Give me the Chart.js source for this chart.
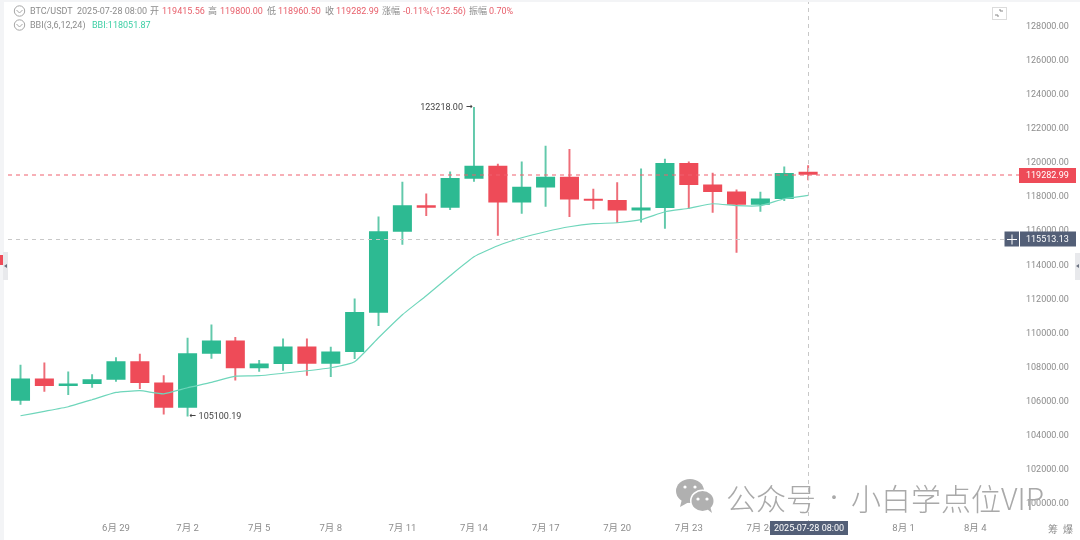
<!DOCTYPE html>
<html><head><meta charset="utf-8">
<style>
html,body{margin:0;padding:0;background:#fff;width:1080px;height:540px;overflow:hidden;font-family:Roboto,"Noto Sans CJK SC",sans-serif}
#wrap{position:relative;width:1080px;height:540px}
canvas{position:absolute;left:0;top:0}
.hd{position:absolute;font-size:9px;line-height:12px;color:#8c8c8c;white-space:nowrap}
.r{color:#e8606c}
.g{color:#3ccfa4}
.wm{position:absolute;top:478px;font:300 30px "Noto Sans CJK SC";color:#a9a9a9;white-space:nowrap;line-height:38px}
.br{position:absolute;top:521px;font-size:10px;color:#8c8c8c}
</style></head><body>
<div id="wrap">
<canvas id="c" width="1080" height="540"></canvas>
<div id="head"></div>
<div class="wm" style="left:726px">公众号</div><div class="wm" style="left:824px;font-size:20px">·</div><div class="wm" style="left:851px">小白学点位VIP</div>
<div class="br" style="left:1048px">筹</div><div class="br" style="left:1063px">爆</div>
</div>
<script src="https://cdn.jsdelivr.net/npm/chart.js@4"></script>
<script>
const categories=["6月 25","6月 26","6月 27","6月 28","6月 29","6月 30","7月 1","7月 2","7月 3","7月 4","7月 5","7月 6","7月 7","7月 8","7月 9","7月 10","7月 11","7月 12","7月 13","7月 14","7月 15","7月 16","7月 17","7月 18","7月 19","7月 20","7月 21","7月 22","7月 23","7月 24","7月 25","7月 26","7月 27","7月 28","7月 29","7月 30","7月 31","8月 1","8月 2","8月 3","8月 4","8月 5"];
const shownDates=["6月 29","7月 2","7月 5","7月 8","7月 11","7月 14","7月 17","7月 20","7月 23","7月 26","8月 1","8月 4"];
const openVals=[106030,107300,106890,107010,107260,108315,107065,105620,108785,109530,107930,108180,109180,108200,108885,111190,115940,117465,117350,119050,119775,117665,118545,119130,117840,117760,117195,117330,119930,118680,118270,117525,117860,119415.56];
const closeVals=[107300,106890,107010,107260,108315,107065,105620,108785,109530,107930,108180,109180,108200,108885,111190,115940,117465,117350,119050,119775,117665,118545,119130,117840,117760,117195,117330,119930,118680,118270,117525,117860,119345,119282.99];
const highVals=[108105,108240,107710,107540,108550,108750,107495,109690,110470,109725,108375,109650,109650,109160,111995,116800,118840,118150,119440,123218,119895,120030,120950,120750,118430,118800,119620,120190,120030,119365,118385,118250,119735,119800];
const lowVals=[105795,106555,106365,106790,107145,106715,105230,105100.19,108490,107225,107730,107790,107495,107420,108475,110410,115180,116860,117215,118875,115705,116995,117405,116805,117255,116450,116490,116115,117290,117055,114710,117115,117740,118960.5];
const bbiVals=[105130,105390,105660,106070,106500,106600,106420,106775,107085,107460,107480,107625,107770,107945,108300,109705,111055,112170,113345,114455,115100,115570,115925,116215,116395,116450,116630,117095,117300,117565,117450,117450,117860,118051.87];
const yTicks=[100000,102000,104000,106000,108000,110000,112000,114000,116000,118000,120000,122000,124000,126000,128000];
const headerRow1=[["BTC/USDT",30,""],["2025-07-28 08:00",77,""],["开",150,""],["119415.56",162,"r"],["高",208,""],["119800.00",220,"r"],["低",267,""],["118960.50",278,"r"],["收",325,""],["119282.99",336,"r"],["涨幅",382,""],["-0.11%(-132.56)",403,"r"],["振幅",469,""],["0.70%",489,"r"]];
const headerRow2=[["BBI(3,6,12,24)",30,""],["BBI:118051.87",92,"g"]];
const lastPrice=119282.99, crossPrice=115513.13, crossIndex=33, crossLabel="2025-07-28 08:00";
const maxLabel="123218.00", minLabel="105100.19", maxIndex=19, minIndex=7, maxPrice=123218, minPrice=105100.19;
const UP="#2dba92", DOWN="#ee4b58", LINE="#6fd6bb";
const colors=closeVals.map((c,i)=>c>=openVals[i]?UP:DOWN);
const wickColors=closeVals.map((c,i)=>c>=openVals[i]?"#62c9ab":"#ee6d78");
const head=document.getElementById('head');
[[headerRow1,5],[headerRow2,18.5]].forEach(([row,top])=>row.forEach(([t,l,k])=>{const s=document.createElement('div');s.className='hd '+k;s.style.left=l+'px';s.style.top=top+'px';s.textContent=t;head.appendChild(s);}));

const overlay={id:'overlay',afterDraw(ch){
  const c=ch.ctx,y=ch.scales.y,x=ch.scales.x;
  const tag=(t,l,w,py,bg)=>{c.fillStyle=bg;c.fillRect(l,py-7.5,w,15);c.fillStyle='#fff';c.font='9px Roboto';c.textAlign='left';c.textBaseline='middle';c.fillText(t,1026,py+.5);};
  c.save();
  c.setLineDash([4,4]);c.lineWidth=1;
  const pl=Math.round(y.getPixelForValue(lastPrice)+.5),pc=Math.round(y.getPixelForValue(crossPrice)+.5),px=x.getPixelForValue(crossIndex);
  c.strokeStyle='#c8c8c8';c.beginPath();c.moveTo(0,pc+.5);c.lineTo(1005,pc+.5);c.stroke();
  c.beginPath();c.moveTo(Math.round(px)+.5,0);c.lineTo(Math.round(px)+.5,521);c.stroke();
  c.strokeStyle='#f0606e';c.lineWidth=1.2;c.beginPath();c.moveTo(0,pl);c.lineTo(1019,pl);c.stroke();
  c.lineWidth=1;
  c.setLineDash([]);
  tag(lastPrice.toFixed(2),1019,57,pl+.5,'#ee4b58');
  tag(crossPrice.toFixed(2),1020,56,pc,'#535f77');
  c.fillStyle='#535f77';c.fillRect(1004.5,pc-7.5,14.5,15);
  c.strokeStyle='#fff';c.beginPath();c.moveTo(1007,pc+.5);c.lineTo(1017,pc+.5);c.moveTo(1012,pc-4.5);c.lineTo(1012,pc+5.5);c.stroke();
  c.fillStyle='#535f77';c.fillRect(770,521,78,14);
  c.fillStyle='#fff';c.font='9px Roboto';c.textAlign='center';c.textBaseline='middle';c.fillText(crossLabel,809,528.5);
  const mx=x.getPixelForValue(maxIndex),my=y.getPixelForValue(maxPrice),nx=x.getPixelForValue(minIndex),ny=y.getPixelForValue(minPrice);
  c.fillStyle='#444';c.font='9px Roboto';c.textAlign='right';
  c.fillText(maxLabel,mx-11,my);
  c.textAlign='left';
  c.fillText(minLabel,nx+11,ny);
  c.font='bold 8px "DejaVu Sans"';
  c.textAlign='right';c.fillText('→',mx-1,my);
  c.textAlign='left';c.fillText('←',nx+2,ny);
  // header toggles
  c.strokeStyle='#a5a5a5';c.lineWidth=1;
  [11,25].forEach(py=>{c.beginPath();c.arc(19.5,py,5.2,0,Math.PI*2);c.stroke();c.beginPath();c.moveTo(16.5,py-1);c.lineTo(19.5,py+2);c.lineTo(22.5,py-1);c.stroke();});
  // corner icon
  c.strokeStyle='#dcdcdc';c.strokeRect(992.5,7.5,14,12);
  c.strokeStyle='#888';c.beginPath();c.moveTo(995,15);c.lineTo(998,15);c.lineTo(998,17);c.moveTo(1003,11);c.lineTo(1000,11);c.lineTo(1000,9);c.stroke();
  // edge strips and side tabs
  c.fillStyle='#f3f4f6';c.fillRect(0,0,4,540);c.fillRect(0,0,1080,2);
  c.fillStyle='#e8e9ec';c.fillRect(3,252,5,28);c.fillRect(1075,253,5,27);
  c.fillStyle='#ee4b58';c.fillRect(0,255,3,10);
  c.fillStyle='#6b7280';c.beginPath();c.moveTo(4,266);c.lineTo(7,264);c.lineTo(7,268);c.fill();
  c.beginPath();c.moveTo(1076,266);c.lineTo(1079,264);c.lineTo(1079,268);c.fill();
  // wechat glyph watermark
  c.fillStyle='#b0b0b0';
  c.beginPath();c.ellipse(690,491,14,12,0,0,Math.PI*2);c.fill();
  c.beginPath();c.moveTo(682,499);c.lineTo(680,507);c.lineTo(689,502);c.fill();
  c.fillStyle='#fff';c.beginPath();c.ellipse(702.5,501,12.5,11.5,0,0,Math.PI*2);c.fill();
  c.fillStyle='#b0b0b0';c.beginPath();c.ellipse(702.5,501,11,10,0,0,Math.PI*2);c.fill();
  c.beginPath();c.moveTo(707,509);c.lineTo(712,513);c.lineTo(710,506);c.fill();
  c.fillStyle='#fff';
  [[685,487],[695,487],[698,499],[707,499]].forEach(p=>{c.beginPath();c.arc(p[0],p[1],1.6,0,Math.PI*2);c.fill();});
  c.restore();
}};

new Chart(document.getElementById('c'),{
  data:{labels:categories,datasets:[
    {type:'line',label:'BBI',data:bbiVals,borderColor:LINE,borderWidth:1.2,pointRadius:0,tension:.15,order:1},
    {type:'bar',label:'body',data:openVals.map((o,i)=>[o,closeVals[i]]),backgroundColor:colors,barThickness:18.4,order:2,grouped:false},
    {type:'bar',label:'wick',data:lowVals.map((l,i)=>[l,highVals[i]]),backgroundColor:wickColors,barThickness:1.3,order:3,grouped:false}
  ]},
  options:{responsive:false,animation:false,devicePixelRatio:1,
    layout:{padding:{left:8.57,right:0,top:0,bottom:0}},
    plugins:{legend:{display:false},tooltip:{enabled:false}},
    scales:{
      x:{grid:{display:false},border:{display:false},
        ticks:{autoSkip:false,maxRotation:0,padding:0,color:'#8c8c8c',font:{family:'Roboto,"Noto Sans CJK SC"',size:9.5},
          callback(v){const s=this.getLabelForValue(v);return shownDates.includes(s)?s:'';}},
        afterFit(s){s.height=25;s.paddingLeft=0;s.paddingRight=0;}},
      y:{position:'right',min:99311,max:129515,grid:{display:false},border:{display:false},
        afterBuildTicks(s){s.ticks=yTicks.map(v=>({value:v}));},
        ticks:{padding:7,labelOffset:.8,color:'#8c8c8c',font:{family:'Roboto',size:9},callback:v=>v.toFixed(2)},
        afterFit(s){s.width=69;s.paddingTop=0;s.paddingBottom=0;}}
    }},
  plugins:[overlay]
});
</script>
</body></html>
